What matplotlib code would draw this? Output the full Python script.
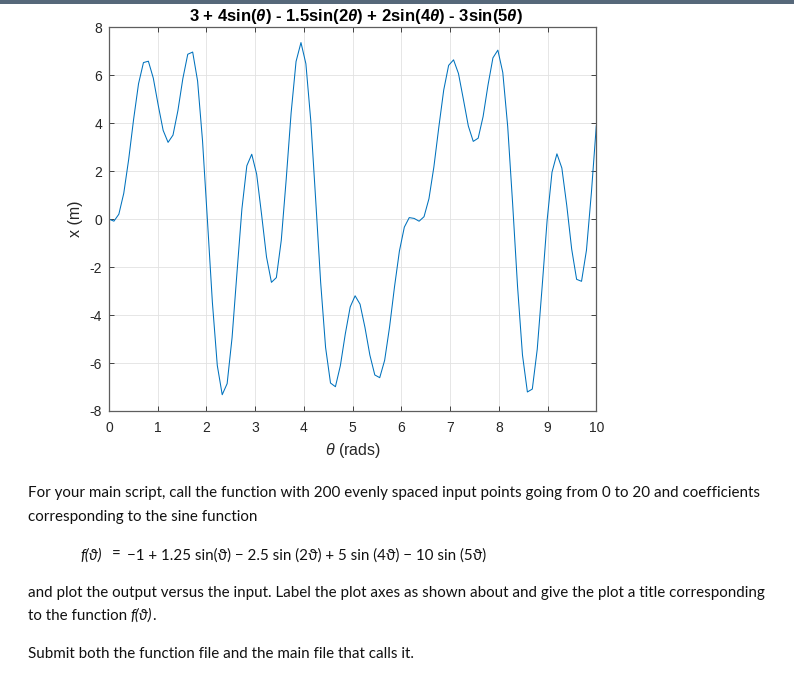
import numpy as np
import matplotlib
matplotlib.use("Agg")
import matplotlib.pyplot as plt
from matplotlib.patches import Rectangle

# 100 samples on [0, 10] (MATLAB linspace default)
theta_start = 0.0
theta_stop = 10.0
n_points = 100

# x(theta) values
x_vals = [
    0.000, -0.084, 0.205, 1.079, 2.496, 4.164, 5.647, 6.529, 6.586, 5.880,
    4.752, 3.703, 3.202, 3.504, 4.528, 5.859, 6.876, 6.968, 5.759, 3.269,
    -0.057, -3.461, -6.101, -7.321, -6.859, -4.947, -2.232, 0.423, 2.226, 2.707,
    1.873, 0.190, -1.577, -2.635, -2.438, -0.880, 1.658, 4.432, 6.572, 7.363,
    6.480, 4.086, 0.771, -2.638, -5.348, -6.833, -6.987, -6.113, -4.793, -3.663,
    -3.196, -3.544, -4.515, -5.670, -6.497, -6.610, -5.886, -4.496, -2.828, -1.329,
    -0.333, 0.065, 0.030, -0.086, 0.102, 0.851, 2.175, 3.825, 5.382, 6.413,
    6.643, 6.072, 4.993, 3.885, 3.243, 3.376, 4.277, 5.592, 6.726, 7.048,
    6.116, 3.864, 0.654, -2.804, -5.662, -7.207, -7.085, -5.427, -2.809, -0.071,
    1.957, 2.723, 2.132, 0.567, -1.251, -2.509, -2.592, -1.296, 1.095, 3.891,
]

x_ticks = list(range(0, 11))
y_ticks = list(range(-8, 9, 2))

title_txt = (r'3 + 4sin($\mathbfit{\theta}$) - 1.5sin(2$\mathbfit{\theta}$) + '
             r'2sin(4$\mathbfit{\theta}$) - 3sin(5$\mathbfit{\theta}$)')
xlabel_txt = r'$\theta$ (rads)'
ylabel_txt = 'x (m)'

line1 = ("For your main script, call the function with 200 evenly spaced input "
         "points going from 0 to 20 and coefficients")
line2 = "corresponding to the sine function"
formula_lhs = "f(\u03d1)"
formula_rhs = ("\u22121 + 1.25 sin(\u03d1) \u2212 2.5 sin (2\u03d1) + 5 sin (4\u03d1) "
               "\u2212 10 sin (5\u03d1)")
line3 = ("and plot the output versus the input. Label the plot axes as shown "
         "about and give the plot a title corresponding")
line4a = "to the function "
line5 = "Submit both the function file and the main file that calls it."

W, H, DPI = 794, 682, 100

plt.rcParams['font.family'] = ['Liberation Sans', 'DejaVu Sans']
plt.rcParams['axes.unicode_minus'] = False
plt.rcParams['mathtext.fontset'] = 'custom'
plt.rcParams['mathtext.rm'] = 'Liberation Sans'
plt.rcParams['mathtext.it'] = 'Liberation Sans:italic'
plt.rcParams['mathtext.bf'] = 'Liberation Sans:bold'
plt.rcParams['mathtext.bfit'] = 'Liberation Sans:italic:bold'

fig = plt.figure(figsize=(W / DPI, H / DPI), dpi=DPI)
fig.patch.set_facecolor('white')

# thin dark strip along the top of the screenshot
fig.patches.append(Rectangle((0, 1 - 3.5 / H), 1, 3.5 / H, transform=fig.transFigure,
                             facecolor='#56687a', edgecolor='none'))

left, right, top, bottom = 109.0, 596.3, 27.3, 411.0
ax = fig.add_axes([left / W, 1 - bottom / H, (right - left) / W, (bottom - top) / H])

theta = np.linspace(theta_start, theta_stop, n_points)
ax.plot(theta, x_vals, color='#0072BD', lw=0.75)

ax.set_xlim(theta_start, theta_stop)
ax.set_ylim(-8, 8)
ax.set_xticks(x_ticks)
ax.set_yticks(y_ticks)
ax.grid(True, color='#e2e2e2', lw=0.6)
ax.set_axisbelow(True)
for sp in ax.spines.values():
    sp.set_color('#5e5e5e')
    sp.set_linewidth(0.9)
ax.tick_params(direction='in', top=True, right=True, length=3.6, width=0.6,
               color='#262626', labelcolor='#262626', labelsize=10)
ax.tick_params(axis='x', pad=7.5)
ax.tick_params(axis='y', pad=5)

ax.set_xlabel(xlabel_txt, fontsize=11.5, color='#262626', va='center')
ax.xaxis.set_label_coords(0.5, (bottom - 451) / (bottom - top))
ax.set_ylabel(ylabel_txt, fontsize=11.5, color='#262626', va='center')
ax.yaxis.set_label_coords((75.5 - left) / (right - left), 0.5)

fig.text(356 / W, 1 - 16.5 / H, title_txt, ha='center', va='center',
         fontsize=12, fontweight='bold', color='black')

# ---- text of the assignment below the plot ----
renderer = fig.canvas.get_renderer()
body_font = ['Lato', 'DejaVu Sans']


def put(x_px, base_px, s, size, **kw):
    t = fig.text(x_px / W, 1 - base_px / H, s, ha='left', va='baseline',
                 fontsize=size, family=body_font, color='#111111', **kw)
    return t.get_window_extent(renderer).x1


# fit the font size so the first line spans the same width as in the picture
probe = fig.text(0, 0, line1, fontsize=10, family=body_font)
w0 = probe.get_window_extent(renderer).width
probe.remove()
fs = 10 * 733.0 / w0

put(27.5, 496.7, line1, fs)
put(27.5, 520.7, line2, fs)
put(80, 559.3, formula_lhs, fs, style='italic')
put(112, 559.3, "=", fs)
put(127, 559.3, formula_rhs, fs)
put(27.5, 597.3, line3, fs)
x_end = put(27.5, 620.0, line4a, fs)
x_end = put(x_end, 620.0, formula_lhs, fs, style='italic')
put(x_end, 620.0, ".", fs)
put(27.5, 657.7, line5, fs)

fig.savefig('out.png', dpi=DPI)
